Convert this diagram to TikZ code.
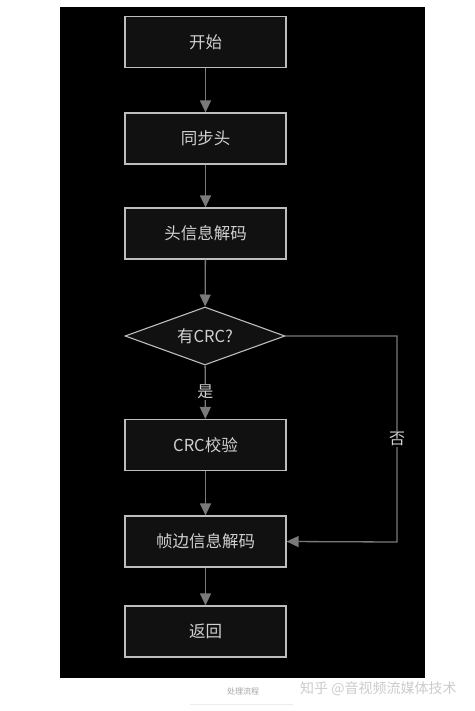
\documentclass[tikz,border=0pt]{standalone}
\usepackage{fontspec}
\setmainfont{Noto Sans CJK SC}
\usetikzlibrary{arrows.meta,shapes.geometric}
\definecolor{boxfill}{HTML}{111111}
\definecolor{boxline}{HTML}{BDBDBD}
\definecolor{arrowc}{HTML}{7A7A7A}
\definecolor{txt}{HTML}{D0D0D0}
\begin{document}
\begin{tikzpicture}[x=1pt,y=-1pt,
  stepbox/.style={draw=boxline,line width=1.2pt,fill=boxfill,minimum width=161pt,minimum height=51pt,inner sep=0pt,text=txt,font=\fontsize{16.5}{16.5}\selectfont},
  decide/.style={diamond,aspect=2.76,draw=boxline,line width=1.1pt,fill=boxfill,minimum width=160pt,minimum height=58pt,inner sep=0pt,text=txt,font=\fontsize{16.5}{16.5}\selectfont},
  conn/.style={draw=arrowc,line width=1.3pt,-{Triangle[width=11pt,length=12pt]}},
  lbl/.style={text=txt,font=\fontsize{16}{16}\selectfont,fill=black,inner sep=1pt}]
\useasboundingbox (0,0) rectangle (474,711);
\fill[white] (0,0) rectangle (474,711);
\fill[black] (60,7) rectangle (425,678);
\node[stepbox] (s1) at (205.5,42) {开始};
\node[stepbox] (s2) at (205.5,138.5) {同步头};
\node[stepbox] (s3) at (205.5,233.5) {头信息解码};
\node[decide] (d) at (205,336) {有CRC?};
\node[stepbox] (s4) at (205.5,445) {CRC校验};
\node[stepbox] (s5) at (205.5,541.5) {帧边信息解码};
\node[stepbox] (s6) at (205.5,631.5) {返回};
\coordinate (r1) at (397,336);
\coordinate (r2) at (397,542);
\draw[conn] (s1) -- (s2);
\draw[conn] (s2) -- (s3);
\draw[conn] (s3) -- (d);
\draw[conn] (d) -- node[lbl,pos=0.5]{是} (s4);
\draw[conn] (s4) -- (s5);
\draw[conn] (s5) -- (s6);
\draw[conn] (d.east) -- (r1) -- node[lbl,pos=0.5]{否} (r2) -- (s5.east);
\node[text=gray!70,font=\fontsize{8}{8}\selectfont] (cap) at (243,691) {处理流程};
\draw[gray!15,line width=0.6pt] (190,704) -- (293,704);
\node[text=gray!40,font=\fontsize{14}{14}\selectfont,anchor=west,inner sep=0pt] (wm) at (300,689) {知乎 @音视频流媒体技术};
\end{tikzpicture}
\end{document}
